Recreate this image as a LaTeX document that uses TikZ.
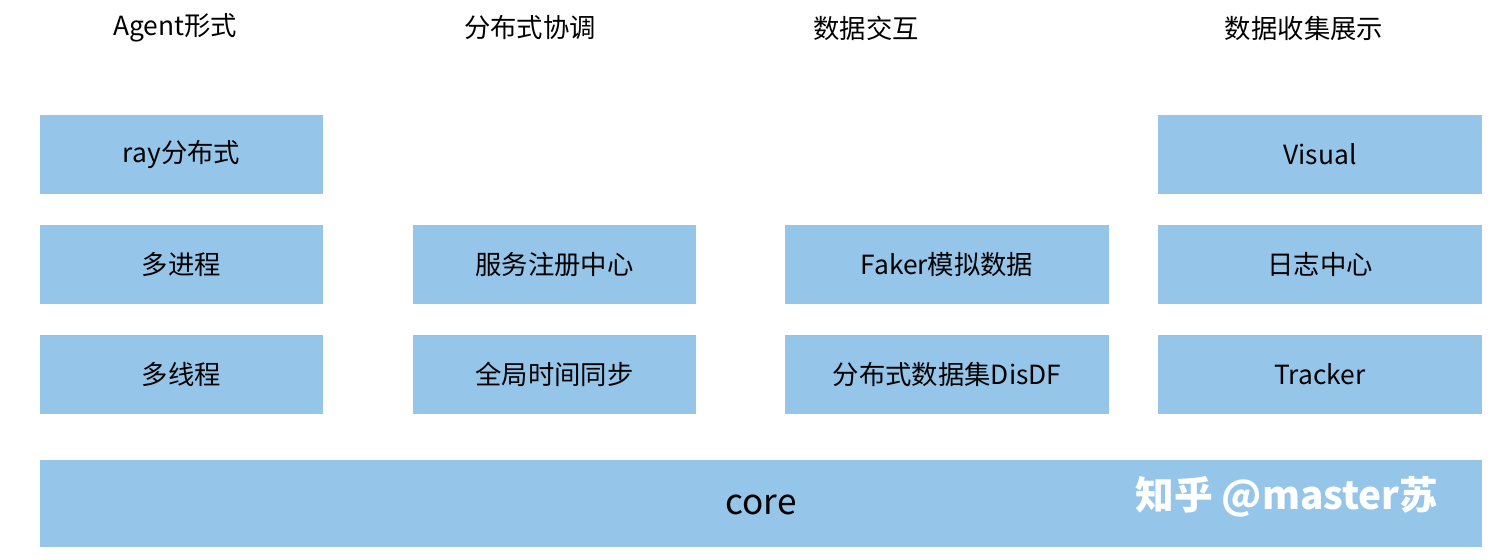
\documentclass[tikz,border=0pt]{standalone}
\usepackage{fontspec}
\setmainfont{Noto Sans CJK SC}
\definecolor{boxblue}{HTML}{95C5E9}
\begin{document}
\begin{tikzpicture}[x=0.02cm,y=-0.02cm,
  box/.style={fill=boxblue,draw=none,inner sep=0pt,font=\fontsize{15}{18}\selectfont},
  head/.style={font=\fontsize{15}{18}\selectfont,inner sep=0pt}]
\useasboundingbox (0,0) rectangle (1494,560);
\newcommand{\bx}[6]{\fill[boxblue] (#2,#3) rectangle (#4,#5); \node[box,fill=none] (#1) at ({(#2+#4)/2},{(#3+#5)/2}) {#6};}
\node[head] (h1) at (175,28) {Agent形式};
\node[head] (h2) at (530,28) {分布式协调};
\node[head] (h3) at (866,28) {数据交互};
\node[head] (h4) at (1304,28) {数据收集展示};
\bx{a1}{40}{115}{323}{194}{ray分布式}
\bx{a2}{40}{225}{323}{304}{多进程}
\bx{a3}{40}{335}{323}{414}{多线程}
\bx{b2}{413}{225}{696}{304}{服务注册中心}
\bx{b3}{413}{335}{696}{414}{全局时间同步}
\bx{c2}{785}{225}{1109}{304}{Faker模拟数据}
\bx{c3}{785}{335}{1109}{414}{分布式数据集DisDF}
\bx{d1}{1158}{115}{1482}{194}{Visual}
\bx{d2}{1158}{225}{1482}{304}{日志中心}
\bx{d3}{1158}{335}{1482}{414}{Tracker}
\fill[boxblue] (40,460) rectangle (1482,547);
\node[inner sep=0pt,font=\fontsize{20}{24}\selectfont] (core) at (761,505) {core};
\node[inner sep=0pt,text=white,font=\fontsize{22}{26}\selectfont\bfseries] (wm) at (1287,497) {知乎 @master苏};
\end{tikzpicture}
\end{document}
